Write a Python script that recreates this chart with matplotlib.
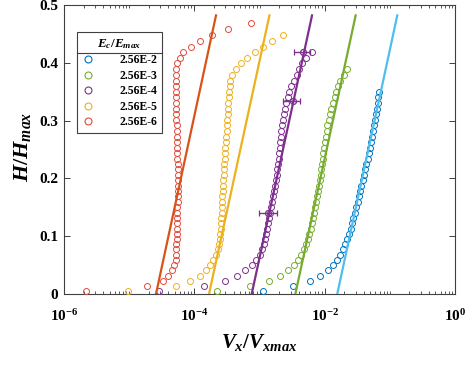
import numpy as np
import matplotlib
matplotlib.use('Agg')
import matplotlib.pyplot as plt
from matplotlib.lines import Line2D
from matplotlib.ticker import FixedLocator, FixedFormatter, LogLocator, NullFormatter

# fonts: bold Times-like serif, math letters bold italic
plt.rcParams['font.family'] = ['Liberation Serif', 'DejaVu Serif']
plt.rcParams['font.weight'] = 'bold'
plt.rcParams['mathtext.fontset'] = 'custom'
plt.rcParams['mathtext.rm'] = 'Liberation Serif:bold'
plt.rcParams['mathtext.it'] = 'Liberation Serif:italic:bold'
plt.rcParams['mathtext.bf'] = 'Liberation Serif:bold'

# height levels H/Hmax shared by all series
h_levels = [0.005, 0.014, 0.023, 0.032, 0.041, 0.050, 0.059, 0.068, 0.077, 0.086,
            0.095, 0.104, 0.113, 0.122, 0.132, 0.141, 0.150, 0.159, 0.169, 0.178,
            0.187, 0.197, 0.206, 0.216, 0.225, 0.234, 0.244, 0.253, 0.263, 0.272,
            0.282, 0.292, 0.301, 0.311, 0.320, 0.330, 0.340, 0.350, 0.359, 0.369,
            0.379, 0.389, 0.399, 0.408, 0.418, 0.428, 0.438, 0.448, 0.458, 0.468]

# log10(Vx/Vxmax), from the lowest level upward
logv_e2 = [-2.941, -2.48, -2.23, -2.072, -1.952, -1.87, -1.812, -1.762, -1.722, -1.686,
           -1.655, -1.625, -1.60, -1.58, -1.558, -1.537, -1.516, -1.495, -1.475, -1.455,
           -1.435, -1.416, -1.397, -1.378, -1.36, -1.342, -1.325, -1.308, -1.291, -1.275,
           -1.259, -1.244, -1.229, -1.215, -1.201, -1.188, -1.175, -1.162]
logv_e3 = [-3.657, -3.152, -2.86, -2.682, -2.563, -2.47, -2.41, -2.36, -2.322, -2.29,
           -2.26, -2.237, -2.216, -2.197, -2.178, -2.16, -2.143, -2.128, -2.113, -2.099,
           -2.086, -2.074, -2.062, -2.051, -2.04, -2.029, -2.018, -2.007, -1.996, -1.984,
           -1.971, -1.957, -1.94, -1.92, -1.898, -1.874, -1.848, -1.822, -1.795, -1.765,
           -1.71, -1.652]
logv_e4 = [-4.542, -3.852, -3.53, -3.34, -3.22, -3.12, -3.05, -3.0, -2.96, -2.935,
           -2.915, -2.895, -2.878, -2.862, -2.848, -2.835, -2.82, -2.805, -2.79, -2.775,
           -2.762, -2.75, -2.738, -2.727, -2.717, -2.708, -2.70, -2.692, -2.684, -2.676,
           -2.667, -2.657, -2.645, -2.63, -2.61, -2.59, -2.565, -2.54, -2.512, -2.478,
           -2.432, -2.39, -2.35, -2.28, -2.20]
logv_e5 = [-5.013, -4.281, -4.067, -3.913, -3.82, -3.76, -3.71, -3.668, -3.642, -3.62,
           -3.606, -3.60, -3.596, -3.592, -3.588, -3.583, -3.578, -3.573, -3.568, -3.563,
           -3.558, -3.553, -3.548, -3.543, -3.538, -3.533, -3.528, -3.522, -3.516, -3.51,
           -3.504, -3.498, -3.493, -3.488, -3.483, -3.478, -3.474, -3.468, -3.46, -3.45,
           -3.417, -3.361, -3.289, -3.197, -3.069, -2.942, -2.813, -2.635]
logv_e6 = [-5.667, -4.722, -4.476, -4.40, -4.35, -4.31, -4.286, -4.28, -4.278, -4.275,
           -4.272, -4.27, -4.268, -4.266, -4.264, -4.262, -4.26, -4.258, -4.257, -4.256,
           -4.255, -4.255, -4.256, -4.257, -4.258, -4.26, -4.262, -4.264, -4.266, -4.268,
           -4.27, -4.272, -4.274, -4.276, -4.278, -4.28, -4.281, -4.282, -4.283, -4.283,
           -4.282, -4.28, -4.27, -4.225, -4.17, -4.051, -3.913, -3.734, -3.478, -3.136]

labels = ['2.56E-2', '2.56E-3', '2.56E-4', '2.56E-5', '2.56E-6']
marker_colors = ['#0072BD', '#77AC30', '#7E2F8E', '#EDB120', '#E04B3C']
line_colors = ['#4DBEEE', '#77AC30', '#7E2F8E', '#EDB120', '#D95319']

# fitted lines: Vx/Vxmax at the bottom and top of each line
fit_h = [0.0, 0.482]
fit_lo = [1.56e-2, 3.55e-3, 7.59e-4, 1.68e-4, 2.58e-5]
fit_hi = [1.30e-1, 2.99e-2, 6.40e-3, 1.42e-3, 2.15e-4]

# error bars on the 2.56E-4 series (log10 of centre, low, high)
err_h = [0.140, 0.334, 0.419]
err_logv = [-2.865, -2.49, -2.33]
err_loglo = [-3.005, -2.635, -2.466]
err_loghi = [-2.737, -2.379, -2.22]

series = [logv_e2, logv_e3, logv_e4, logv_e5, logv_e6]

fig = plt.figure(figsize=(4.74, 3.73), dpi=100)
ax = fig.add_axes([64/474, 1 - 294/373, 391/474, 289/373])

for logv, mc in zip(series, marker_colors):
    v = 10 ** np.array(logv)
    ax.plot(v, h_levels[:len(logv)], 'o', mfc='none', mec=mc, ms=4.3, mew=0.7,
            clip_on=False, zorder=3)

xc = 10 ** np.array(err_logv)
xerr = [xc - 10 ** np.array(err_loglo), 10 ** np.array(err_loghi) - xc]
ax.errorbar(xc, err_h, xerr=xerr, fmt='o', mfc='none', mec=marker_colors[2],
            ecolor=marker_colors[2], ms=4.3, mew=0.9, elinewidth=1.0,
            capsize=2.5, capthick=1.0, zorder=4)

for lo, hi, lc in zip(fit_lo, fit_hi, line_colors):
    ax.plot([lo, hi], fit_h, '-', color=lc, lw=1.6, zorder=5)

ax.set_xscale('log')
ax.set_xlim(1e-6, 1)
ax.set_ylim(0, 0.5)
ax.xaxis.set_major_locator(FixedLocator([1e-6, 1e-4, 1e-2, 1]))
ax.xaxis.set_major_formatter(FixedFormatter([r'$10^{-6}$', r'$10^{-4}$', r'$10^{-2}$', r'$10^{0}$']))
ax.xaxis.set_minor_locator(LogLocator(base=10, subs=np.arange(1, 10), numticks=30))
ax.xaxis.set_minor_formatter(NullFormatter())
ax.set_yticks([0, 0.1, 0.2, 0.3, 0.4, 0.5])
ax.set_yticklabels(['0', '0.1', '0.2', '0.3', '0.4', '0.5'])

ax.tick_params(which='both', direction='in', top=True, right=True,
               color='#404040', labelcolor='black', labelsize=11)
ax.tick_params(which='major', length=4, width=0.7)
ax.tick_params(which='minor', length=2, width=0.6)
ax.tick_params(axis='y', pad=4)
ax.tick_params(axis='x', which='major', pad=10)
for sp in ax.spines.values():
    sp.set_color('#404040')
    sp.set_linewidth(0.8)

ax.set_ylabel(r'$H/H_{max}$', fontsize=16)
ax.yaxis.set_label_coords(-0.08, 0.51)
ax.set_xlabel(r'$V_x/V_{xmax}$', fontsize=15)
ax.xaxis.set_label_coords(0.5, -0.13)

handles = [Line2D([], [], ls='none', marker='o', mfc='none', mec=c, ms=5, mew=0.8)
           for c in marker_colors]
leg = ax.legend(handles, labels, title=r'$E_c/E_{max}$', loc='upper left',
                bbox_to_anchor=(0.033, 0.906), borderaxespad=0, fancybox=False,
                edgecolor='#404040', framealpha=1, fontsize=8.5, title_fontsize=9.5,
                handlelength=1.0, handletextpad=2.2, labelspacing=0.3, borderpad=0.4)
leg.get_frame().set_linewidth(0.8)
leg.set_zorder(10)

# separator line under the legend title
fig.canvas.draw()
r = fig.canvas.get_renderer()
tb = leg.get_title().get_window_extent(r)
fb = leg.get_frame().get_window_extent(r)
W, H = fig.bbox.width, fig.bbox.height
ysep = (tb.y0 - 2) / H
fig.add_artist(Line2D([fb.x0 / W, fb.x1 / W], [ysep, ysep], transform=fig.transFigure,
                      color='#404040', lw=0.8, zorder=11))

fig.savefig('out.png', dpi=100)
